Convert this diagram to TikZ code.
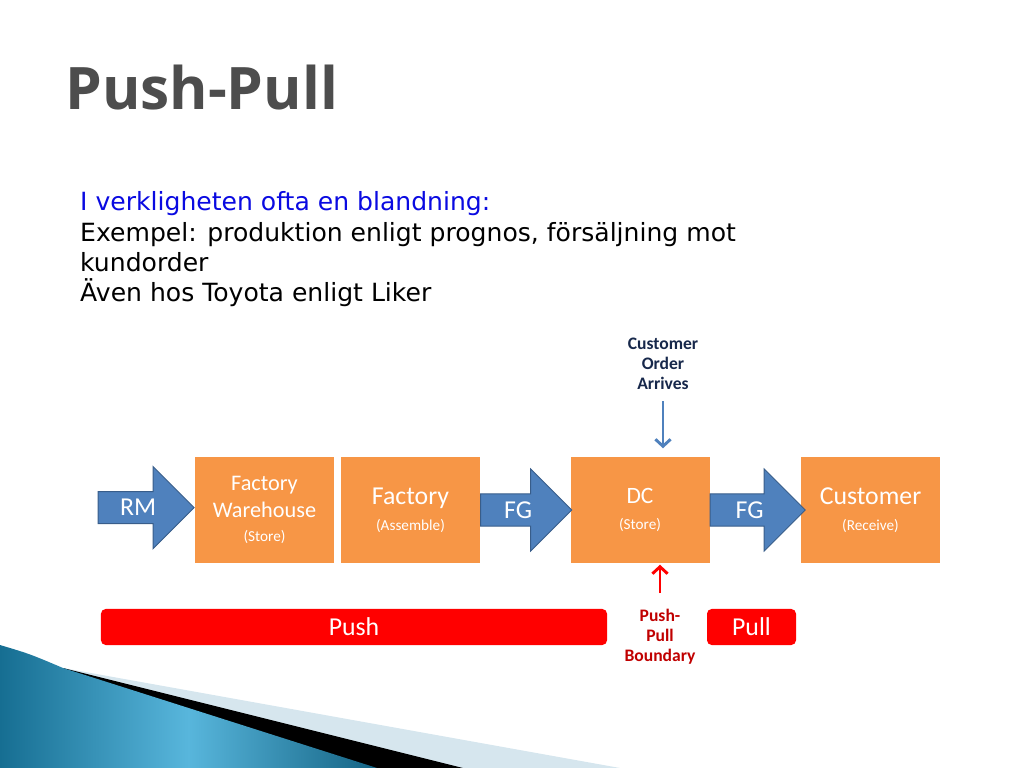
\documentclass[tikz,border=0pt]{standalone}
\usepackage{fontspec}
\setmainfont{DejaVu Sans}
\newfontfamily\calfont{Carlito}
\newfontfamily\headfont{Open Sans}
\usetikzlibrary{shapes.arrows,arrows.meta,positioning}

\definecolor{boxorange}{RGB}{247,150,70}
\definecolor{arrowblue}{RGB}{79,129,189}
\definecolor{arrowedge}{RGB}{56,93,138}
\definecolor{ordernavy}{RGB}{23,40,75}
\definecolor{boundred}{RGB}{192,0,0}
\definecolor{titlegray}{RGB}{77,77,77}
\definecolor{introblue}{RGB}{10,10,225}
\definecolor{tealdark}{RGB}{22,110,146}
\definecolor{teallight}{RGB}{88,182,220}
\definecolor{wedgeblue}{RGB}{214,230,238}

\begin{document}
\begin{tikzpicture}[x=0.03cm,y=-0.03cm,
		stage/.style={fill=boxorange,minimum width=4.17cm,minimum height=3.15cm,inner sep=0pt,text=white,align=center},
		flow/.style={single arrow,fill=arrowblue,draw=arrowedge,line width=0.8pt,text height=14pt,text depth=0pt,inner xsep=3pt,inner ysep=6.3pt,single arrow head extend=0.75cm,text=white,font=\calfont\fontsize{22}{24}\selectfont},
		bar/.style={fill=red,rounded corners=4pt,minimum height=1.08cm,inner sep=0pt,text=white,font=\calfont\fontsize{22}{24}\selectfont},
		hint/.style={font=\calfont\bfseries\fontsize{15}{17}\selectfont,align=center,inner sep=1pt},
		pointer/.style={line width=2.5pt,-{Straight Barb[length=6pt,width=13pt]}}]
			\useasboundingbox (0,0) rectangle (1024,768);
			% corner wedge
			\fill[wedgeblue] (63,668) -- (620,768) -- (0,768) -- cycle;
			\fill[black] (63,668) -- (463,768) -- (0,768) -- cycle;
			\shade[left color=tealdark,right color=tealdark!90!black,middle color=teallight] (0,645) .. controls (30,654) .. (63,668) -- (377,768) -- (0,768) -- cycle;
			% heading and text
			\node[anchor=base west,inner sep=0pt,text=titlegray,font=\headfont\bfseries\fontsize{50}{56}\selectfont] (title) at (65,110) {Push-Pull};
			\node[anchor=base west,inner sep=0pt,align=left,font=\fontsize{21.4}{26}\selectfont] (intro) at (80,302)
			{\textcolor{introblue}{I verkligheten ofta en blandning:}\\Exempel: produktion enligt prognos, försäljning mot\\kundorder\\Även hos Toyota enligt Liker};
			% chain
			\node[stage,font=\calfont\fontsize{19}{23}\selectfont] (fw) at (264.5,510) {Factory\\Warehouse\\[-3pt]{\calfont\fontsize{13}{14}\selectfont(Store)}};
			\node[stage,font=\calfont\fontsize{22}{22}\selectfont] (fac) at (410.5,510) {Factory\\{\calfont\fontsize{13}{14}\selectfont(Assemble)}};
			\node[stage,font=\calfont\fontsize{20}{22}\selectfont] (dc) at (640,510) {DC\\{\calfont\fontsize{13}{14}\selectfont(Store)}};
			\node[stage,font=\calfont\fontsize{22}{22}\selectfont] (cust) at (870.5,510) {Customer\\{\calfont\fontsize{13}{14}\selectfont(Receive)}};
			\node[flow,minimum height=2.88cm,anchor=tip] (rm) at ([yshift=2pt]fw.west) {RM};
			\node[flow,minimum height=2.73cm,anchor=tail] (fg1) at (fac.east) {FG};
			\node[flow,minimum height=2.85cm,anchor=tail] (fg2) at (dc.east) {FG};
			% push / pull
			\node[bar,minimum width=15.18cm] (push) at (354,627) {Push};
			\node[bar,minimum width=2.67cm] (pull) at (751.5,627) {Pull};
			\node[hint,text=ordernavy] (order) at (663,364) {Customer\\Order\\Arrives};
			\node[hint,text=boundred] (bound) at (660,637) {Push-\\Pull\\Boundary};
			\draw[pointer,arrowblue,shorten <=0.3cm,shorten >=0.27cm] (order.south) -- (order.south |- dc.north);
			\draw[pointer,red,shorten <=0.45cm,shorten >=0.06cm] (bound.north) -- (bound.north |- dc.south);
		\end{tikzpicture}
\end{document}
